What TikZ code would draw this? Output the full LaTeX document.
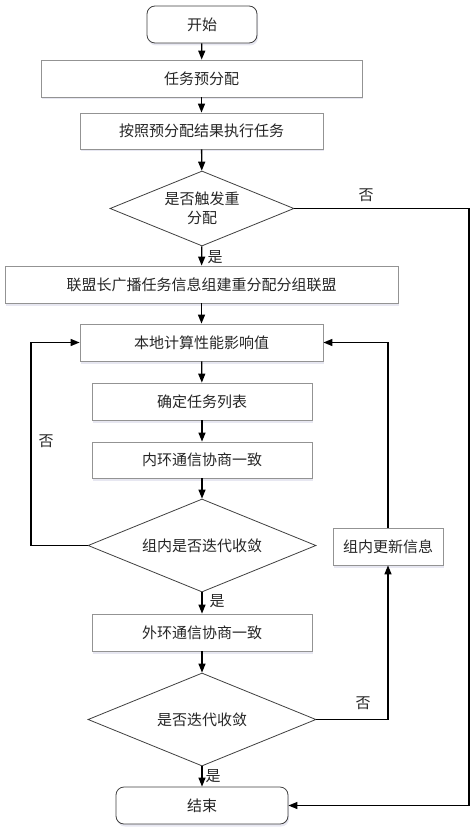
\documentclass[tikz,border=0pt]{standalone}
\usepackage{fontspec}
\newfontfamily\cjk{Noto Sans CJK SC}
\usetikzlibrary{shapes.geometric,arrows.meta,shadows,positioning}

\tikzset{
  flowtext/.style={font=\cjk\fontsize{15}{19}\selectfont, text=black!85},
  procbox/.style={flowtext, draw=gray!85, line width=0.8pt, fill=white,
    inner sep=0pt, minimum height=37pt,
    drop shadow={fill=blue!25!gray!25, opacity=0.6, shadow xshift=1pt, shadow yshift=-2.5pt}},
  termbox/.style={procbox, draw=black!75, rounded corners=8pt},
  decide/.style={flowtext, draw=black!75, line width=0.8pt, fill=white,
    diamond, aspect=2.45, inner sep=0pt, align=center},
  arr/.style={-{Triangle[length=9pt,width=7pt]}, line width=1.3pt, black},
  branch/.style={flowtext, inner sep=0pt},
}

\begin{document}
\begin{tikzpicture}[x=1pt, y=-1pt]
    \useasboundingbox (0,0) rectangle (474,834);
    % define nodes
    % pre-allocation stage
    \node[termbox, minimum width=110pt] (start) at (202, 24.5) {开始};
    \node[procbox, minimum width=321pt] (prealloc) at (201.5, 78.5) {任务预分配};
    \node[procbox, minimum width=243pt, minimum height=36pt] (execute) at (201.5, 131) {按照预分配结果执行任务};
    \node[decide, minimum width=184pt, minimum height=75pt] (trigger) at (202, 208.5) {是否触发重\\分配};
    % regrouping and inner loop
    \node[procbox, minimum width=393pt] (coalition) at (201.5, 284.5) {联盟长广播任务信息组建重分配分组联盟};
    \node[procbox, minimum width=243pt] (localcalc) at (201.5, 342.5) {本地计算性能影响值};
    \node[procbox, minimum width=220pt] (tasklist) at (202, 401.5) {确定任务列表};
    \node[procbox, minimum width=220pt, minimum height=36pt] (innercomm) at (202, 460) {内环通信协商一致};
    \node[decide, minimum width=228pt, minimum height=93pt] (innerconv) at (202, 545.5) {组内是否迭代收敛};
    \node[procbox, minimum width=110pt] (update) at (388, 546.5) {组内更新信息};
    % outer loop
    \node[procbox, minimum width=220pt] (outercomm) at (202, 632.5) {外环通信协商一致};
    \node[decide, minimum width=228pt, minimum height=93pt] (outerconv) at (202, 719.5) {是否迭代收敛};
    \node[termbox, minimum width=172pt] (finish) at (202, 805.5) {结束};
    % corner points of the loops
    \coordinate (right_rail) at (469, 208.5);
    \coordinate (left_rail) at (31, 545.5);
    % draw connectors
    \draw[arr] (start) -- (prealloc);
    \draw[arr] (prealloc) -- (execute);
    \draw[arr] (execute) -- (trigger);
    \draw[arr] (trigger) -- (coalition);
    \draw[arr] (coalition) -- (localcalc);
    \draw[arr] (localcalc) -- (tasklist);
    \draw[arr] (tasklist) -- (innercomm);
    \draw[arr] (innercomm) -- (innerconv);
    \draw[arr] (innerconv) -- (outercomm);
    \draw[arr] (outercomm) -- (outerconv);
    \draw[arr] (outerconv) -- (finish);
    \draw[arr] (trigger.east) -- (right_rail) |- (finish.east);
    \draw[arr] (innerconv.west) -- (left_rail) |- (localcalc.west);
    \draw[arr] (update.north) |- (localcalc.east);
    \draw[arr] (outerconv.east) -| (update.south);
    % add labels
    \node[branch] (no_trigger) at (366, 195) {否};
    \node[branch] (yes_trigger) at (215, 257) {是};
    \node[branch] (no_inner) at (46, 441) {否};
    \node[branch] (yes_inner) at (217, 601) {是};
    \node[branch] (no_outer) at (363, 703) {否};
    \node[branch] (yes_outer) at (213, 776) {是};
\end{tikzpicture}
\end{document}
